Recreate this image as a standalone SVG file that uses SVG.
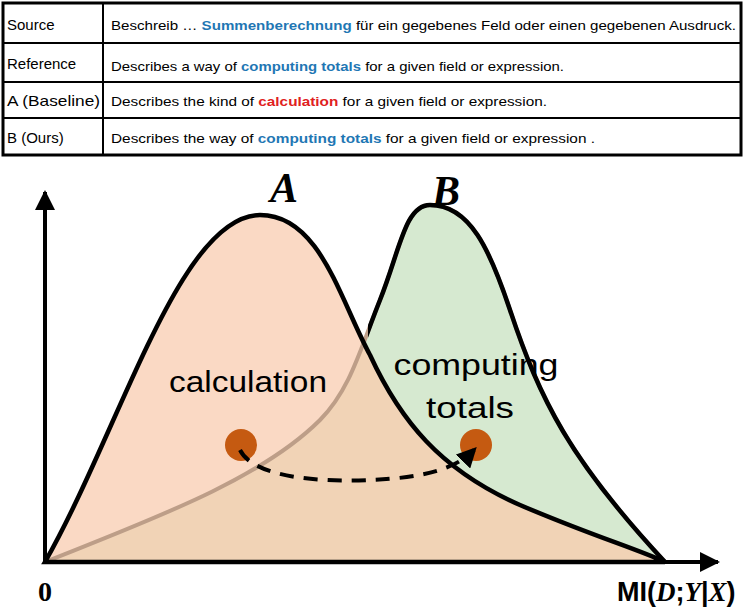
<svg xmlns="http://www.w3.org/2000/svg" width="745" height="612" viewBox="0 0 745 612">
<style>
.t{font-family:"Liberation Sans",Arial,sans-serif;font-size:13px;fill:#000}
.h{font-family:"Liberation Sans",Arial,sans-serif;font-size:15px;fill:#000}
.b{fill:#1f77b4;font-weight:bold}
.r{fill:#e02020;font-weight:bold}
.big{font-family:"Liberation Sans",Arial,sans-serif;font-size:30px;fill:#000}
.ser{font-family:"Liberation Serif","Times New Roman",serif;font-weight:bold;font-style:italic}
</style>
<defs>
<path id="pA" d="M45,562 C120,430 180,215 260,215 C320,215 340,300 370,355 C400,420 440,470 520,505 C590,535 640,550 665,562 Z"/>
<path id="pB" d="M45,562 C150,520 260,480 320,420 C350,390 360,350 380,300 C400,250 405,205 430,205 C470,205 490,250 510,310 C540,400 570,460 665,562"/>
<clipPath id="cA"><use href="#pA"/></clipPath>
<clipPath id="cR"><rect x="368" y="0" width="400" height="600"/></clipPath>
<marker id="ah" viewBox="0 0 10 10" refX="8" refY="5" markerWidth="5" markerHeight="5" orient="auto"><path d="M0,0L10,5L0,10Z" fill="#000"/></marker>
<marker id="ax" viewBox="0 0 10 10" refX="9" refY="5" markerWidth="5" markerHeight="5" orient="auto"><path d="M0,0L10,5L0,10Z" fill="#000"/></marker>
</defs>
<g id="table" fill="none" stroke="#000">
<rect x="3" y="3" width="738" height="152" stroke-width="3"/>
<line x1="3" y1="43" x2="741" y2="43" stroke-width="2"/>
<line x1="3" y1="82" x2="741" y2="82" stroke-width="2"/>
<line x1="3" y1="118" x2="741" y2="118" stroke-width="2"/>
<line x1="103" y1="3" x2="103" y2="155" stroke-width="2"/>
</g>
<g id="tabletext">
<text class="h" x="7" y="30">Source</text>
<text class="h" x="7" y="69">Reference</text>
<text class="h" x="7" y="106" textLength="93" lengthAdjust="spacingAndGlyphs">A (Baseline)</text>
<text class="h" x="7" y="143">B (Ours)</text>
<text class="t" x="111" y="30" textLength="625" lengthAdjust="spacingAndGlyphs">Beschreib … <tspan class="b">Summenberechnung</tspan> für ein gegebenes Feld oder einen gegebenen Ausdruck.</text>
<text class="t" x="111" y="71" textLength="453" lengthAdjust="spacingAndGlyphs">Describes a way of <tspan class="b">computing totals</tspan> for a given field or expression.</text>
<text class="t" x="111" y="106" textLength="436" lengthAdjust="spacingAndGlyphs">Describes the kind of <tspan class="r">calculation</tspan> for a given field or expression.</text>
<text class="t" x="111" y="143" textLength="484" lengthAdjust="spacingAndGlyphs">Describes the way of <tspan class="b">computing totals</tspan> for a given field or expression .</text>
</g>
<g id="nodeA"><use href="#pA" fill="#fad9c4"/></g>
<g id="nodeB"><use href="#pB" fill="#d6e9d0"/>
<use href="#pB" fill="#f1d3b6" clip-path="url(#cA)"/>
<use href="#pB" fill="none" stroke="#bd9e88" stroke-width="4"/>
<use href="#pA" fill="none" stroke="#000" stroke-width="4.5"/>
<use href="#pB" fill="none" stroke="#000" stroke-width="4.5" clip-path="url(#cR)"/>
</g>
<g id="labels">
<text class="ser" x="284" y="202" font-size="42" text-anchor="middle">A</text>
<text class="ser" x="446" y="205" font-size="42" text-anchor="middle">B</text>
<text class="big" x="248" y="392" text-anchor="middle" textLength="158" lengthAdjust="spacingAndGlyphs">calculation</text>
<text class="big" x="476" y="375" text-anchor="middle" textLength="165" lengthAdjust="spacingAndGlyphs">computing</text>
<text class="big" x="470" y="418" text-anchor="middle" textLength="88" lengthAdjust="spacingAndGlyphs">totals</text>
<text x="45" y="601" font-family="Liberation Serif,serif" font-weight="bold" font-size="28" text-anchor="middle">0</text>
<text x="617" y="601" font-size="27" font-weight="bold"><tspan font-family="Liberation Sans,sans-serif">MI(</tspan><tspan class="ser">D</tspan><tspan font-family="Liberation Sans,sans-serif">;</tspan><tspan class="ser">Y</tspan><tspan font-family="Liberation Sans,sans-serif">|</tspan><tspan class="ser">X</tspan><tspan font-family="Liberation Sans,sans-serif">)</tspan></text>
</g>
<g id="points" fill="#c55a11">
<circle cx="241" cy="445" r="16"/>
<circle cx="476" cy="445" r="16"/>
</g>
<g id="connectors" fill="none" stroke="#000">
<path d="M240,450 C255,480 330,482 370,480 C420,478 455,470 474,450" stroke-width="4" stroke-dasharray="14,10" marker-end="url(#ah)"/>
<line x1="45" y1="564" x2="45" y2="192" stroke-width="4" marker-end="url(#ax)"/>
<line x1="43" y1="562" x2="718" y2="562" stroke-width="4" marker-end="url(#ax)"/>
</g>
</svg>
